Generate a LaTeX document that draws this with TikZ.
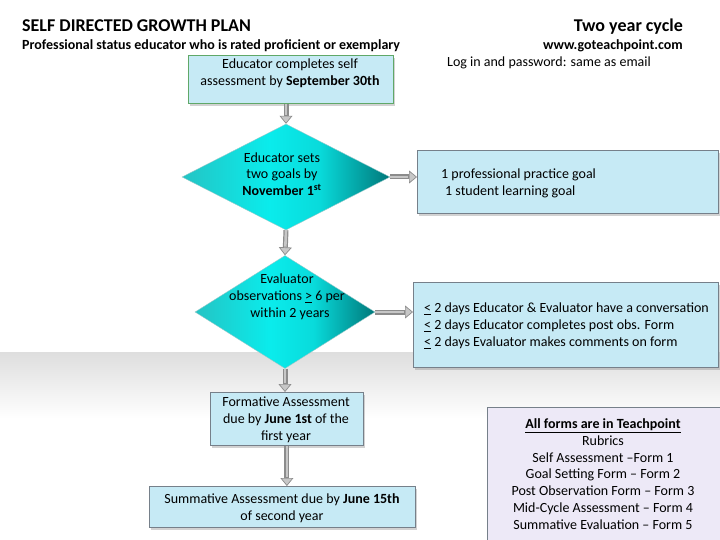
\documentclass[tikz,border=0pt]{standalone}
\usepackage{fontspec}
\setmainfont{Carlito}
\usetikzlibrary{shapes.geometric,arrows.meta,shadows}

\definecolor{boxblue}{RGB}{198,234,245}
\definecolor{boxlilac}{RGB}{237,233,247}
\definecolor{boxgreen}{RGB}{96,168,104}
\definecolor{edgegray}{RGB}{118,128,138}
\definecolor{tealdark}{RGB}{0,120,122}
\definecolor{tealmid}{RGB}{10,236,236}
\definecolor{tealleft}{RGB}{36,196,196}

\pgfdeclarehorizontalshading{tealshade}{100bp}{color(0bp)=(tealleft); color(25bp)=(tealleft);
  color(46bp)=(tealmid); color(58bp)=(tealmid!85!tealdark); color(75bp)=(tealdark);
  color(100bp)=(tealdark)}

\tikzset{
  infobox/.style={draw=edgegray, fill=boxblue, line width=0.8pt, inner sep=0pt,
    anchor=north west,
    drop shadow={shadow xshift=2pt, shadow yshift=-2.5pt, opacity=0.35}},
  decision/.style={diamond, inner sep=0pt, draw=tealdark!40, line width=0.4pt,
    shading=tealshade},
  flow/.style={line width=5pt, draw=black!45,
    -{Triangle[length=8pt, width=13pt, line width=0.7pt 0, fill=black!22]},
    postaction={draw=black!22, line width=2.6pt, -, shorten >=8.6pt}},
  txt/.style={font=\fontsize{14}{16.8}\selectfont, inner sep=0pt, align=center},
  head/.style={font=\fontsize{18}{20}\selectfont\bfseries, inner sep=0pt},
  subhead/.style={font=\fontsize{14}{16}\selectfont\bfseries, inner sep=0pt},
}

\begin{document}
\begin{tikzpicture}[x=1pt, y=-1pt]
  \useasboundingbox (0,0) rectangle (720,540);
  \fill[white] (0,0) rectangle (720,540);
  % grey band behind the lower half
  \shade[top color=black!13, bottom color=white] (0,352) rectangle (720,418);

  % headings
  \node[head, anchor=base west] (title) at (22,32) {SELF DIRECTED GROWTH PLAN};
  \node[subhead, anchor=base west] (status) at (22,50)
    {Professional status educator who is rated proficient or exemplary};
  \node[head, anchor=base east] (cycle) at (683,32) {Two year cycle};
  \node[subhead, anchor=base east] (web) at (683,50) {www.goteachpoint.com};
  \node[txt, anchor=base west] (login) at (447,67) {Log in and password: same as email};

  % boxes and decisions
  \node[infobox, draw=boxgreen, minimum width=205, minimum height=48] (selfassess) at (188,55) {};
  \node[decision, minimum width=208, minimum height=106] (goals) at (286,177) {};
  \node[infobox, minimum width=301, minimum height=63] (goalbox) at (417,150) {};
  \node[decision, minimum width=180, minimum height=113] (observe) at (285,312) {};
  \node[infobox, minimum width=305, minimum height=85] (obsbox) at (413,282) {};
  \node[infobox, minimum width=153, minimum height=53] (formative) at (210,392) {};
  \node[infobox, minimum width=266, minimum height=41] (summative) at (149,486) {};
  \node[infobox, fill=boxlilac, minimum width=233, minimum height=137] (forms) at (487,407) {};

  % texts
  \node[txt] (selftext) at (290,73)
    {Educator completes self\\assessment by \textbf{September 30th}};
  \node[txt] (goalstext) at (282,174)
    {Educator sets\\two goals by\\\textbf{November 1\textsuperscript{st}}};
  \node[txt, anchor=west, align=left] (goalboxtext) at (441,183)
    {1 professional practice goal\\\hspace{4pt}1 student learning goal};
  \node[txt] (observetext) at (287,297)
    {Evaluator\\observations \underline{>} 6 per\\\hspace{6pt}within 2 years};
  \node[txt, anchor=west, align=left] (obsboxtext) at (424,326)
    {\underline{<} 2 days Educator \& Evaluator have a conversation\\
     \underline{<} 2 days Educator completes post obs. Form\\
     \underline{<} 2 days Evaluator makes comments on form};
  \node[txt] (formativetext) at (286,420)
    {Formative Assessment\\due by \textbf{June 1st} of the\\first year};
  \node[txt] (summativetext) at (282,508)
    {Summative Assessment due by \textbf{June 15th}\\of second year};
  \node[txt] (formstext) at (603,474)
    {\textbf{\underline{All forms are in Teachpoint}}\\Rubrics\\Self Assessment –Form 1\\
     Goal Setting Form – Form 2\\Post Observation Form – Form 3\\
     Mid-Cycle Assessment – Form 4\\Summative Evaluation – Form 5};

  % arrows
  \draw[flow] (goals.north |- selfassess.south) -- (goals.north);
  \draw[flow] (goals.south) -- (observe.north);
  \draw[flow] (goals.east) -- (goals.east -| goalbox.west);
  \draw[flow] (observe.east) -- (observe.east -| obsbox.west);
  \draw[flow] (observe.south) -- (observe.south |- formative.north);
  \draw[flow] (formative.south) -- (formative.south |- summative.north);
\end{tikzpicture}
\end{document}
